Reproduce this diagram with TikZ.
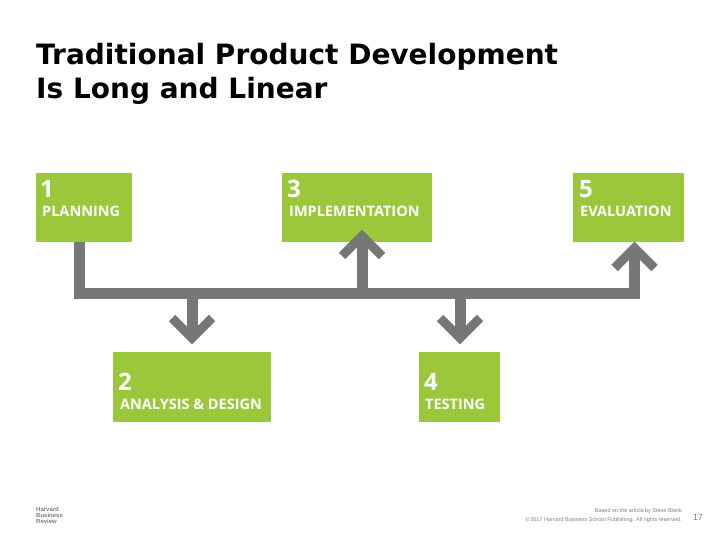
\documentclass[tikz,border=0pt]{standalone}
\usepackage{fontspec}
\setmainfont{Liberation Sans}
\newfontfamily\boxfont{Open Sans}
\newfontfamily\titlefont{DejaVu Sans}
\definecolor{grn}{HTML}{9BC83A}
\definecolor{gry}{HTML}{777777}
\begin{document}
\begin{tikzpicture}[x=1pt,y=-1pt,
  bar/.style={gry,line width=11pt},
  chev/.style={gry,line width=9pt,line cap=butt,line join=miter}]
\useasboundingbox[fill=white] (0,0) rectangle (720,540);
\node[anchor=north west,align=left,font=\titlefont\bfseries\fontsize{28}{34}\selectfont,inner sep=0] (title) at (36,43) {Traditional Product Development\\Is Long and Linear};
% boxes
\fill[grn] (36,173) rectangle (132,242);
\fill[grn] (282,173) rectangle (432,242);
\fill[grn] (573,173) rectangle (684,242);
\fill[grn] (113,352) rectangle (271,422);
\fill[grn] (419,352) rectangle (500,422);
\tikzset{num/.style={anchor=north west,inner sep=0,text=white,font=\boxfont\bfseries\fontsize{24}{24}\selectfont},
 lab/.style={anchor=north west,inner sep=0,text=white,font=\boxfont\bfseries\fontsize{14.5}{14.5}\selectfont}}
\node[num] (n1) at (40,180) {1}; \node[lab] (l1) at (42,206) {PLANNING};
\node[num] (n3) at (287,180) {3}; \node[lab] (l3) at (289,206) {IMPLEMENTATION};
\node[num] (n5) at (579,180) {5}; \node[lab] (l5) at (580,206) {EVALUATION};
\node[num] (n2) at (118,373) {2}; \node[lab] (l2) at (120,399) {ANALYSIS \& DESIGN};
\node[num] (n4) at (424,373) {4}; \node[lab] (l4) at (425,399) {TESTING};
% connectors
\draw[bar] (79,242) -- (79,293.5) -- (640,293.5);
\draw[bar] (192,293) -- (192,334);
\draw[bar] (460,293) -- (460,334);
\draw[bar] (362,293) -- (362,240);
\draw[bar] (634.5,293) -- (634.5,252);
\draw[chev] (172,318) -- (192,338) -- (212,318);
\draw[chev] (440,318) -- (460,338) -- (480,318);
\draw[chev] (342,256) -- (362,236) -- (382,256);
\draw[chev] (614.5,268) -- (634.5,248) -- (654.5,268);
% footer
\node[anchor=north west,align=left,inner sep=0,text=gray,font=\bfseries\fontsize{6}{6}\selectfont] (logo) at (36,507) {Harvard\\Business\\Review};
\node[anchor=north east,align=right,inner sep=0,text=gray,font=\fontsize{5.5}{9}\selectfont] (foot) at (682,508) {Based on the article by Steve Blank\\\copyright\,2017 Harvard Business School Publishing. All rights reserved.};
\node[anchor=north east,inner sep=0,text=gray,font=\fontsize{9}{9}\selectfont] (pg) at (703,514) {17};
\end{tikzpicture}
\end{document}
